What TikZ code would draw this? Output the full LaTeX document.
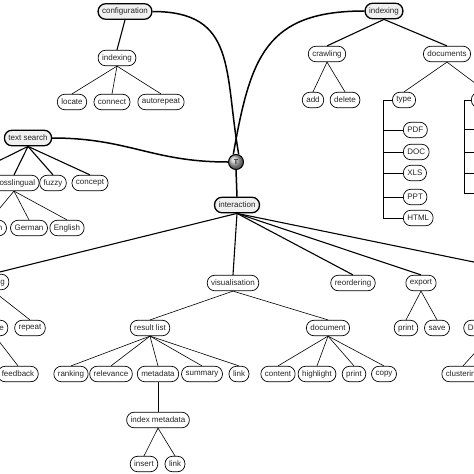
\documentclass[tikz,border=0pt]{standalone}
\usepackage{fontspec}
\setmainfont{Liberation Sans}

\begin{document}
\begin{tikzpicture}[
    x=1pt, y=-1pt,
    text = black!85,
    font=\fontsize{8}{9}\selectfont,
    every node/.style={draw, rounded corners=7.5pt, minimum height=15.5pt, inner xsep=4pt, inner ysep=1pt, fill=white, line width=0.7pt},
    topic/.style={fill=gray!12, line width=1.3pt},
    root/.style={circle, rounded corners=0pt, minimum size=15pt, inner sep=0pt, shading=ball, ball color=gray!60, line width=1pt, font=\bfseries\fontsize{7}{8}\selectfont},
    trunk/.style={line width=1.5pt},
    branch/.style={line width=1.1pt},
    twig/.style={line width=0.6pt}
    ]
    \useasboundingbox (0,0) rectangle (474,474);
    \clip (0,0) rectangle (474,474);

    \node [root] (T) at (236,162) {T};

    % configuration
    \node [topic] (config) at (125,11.5) {configuration};
    \node (cidx) at (117,58) {indexing};
    \node (locate) at (72,102) {locate};
    \node (connect) at (112,102) {connect};
    \node (autorep) at (161,102) {autorepeat};

    % text search
    \node [topic] (ts) at (28,138) {text search};
    \coordinate (tsoff) at (-30,175);
    \node (cross) at (14,183) {crosslingual};
    \node (fuzzy) at (53,183) {fuzzy};
    \node (concept) at (90,183) {concept};
    \node (french) at (-10,228) {French};
    \node (german) at (29,228) {German};
    \node (english) at (67,228) {English};

    % indexing
    \node [topic] (idx) at (384,11) {indexing};
    \node (crawl) at (327,54) {crawling};
    \node (docs) at (447,54) {documents};
    \node (add) at (313,100) {add};
    \node (delete) at (345,100) {delete};
    \node (type) at (404,100) {type};
    \node [anchor=west] (pdf) at (403,130) {PDF};
    \node [anchor=west] (doc) at (403,152) {DOC};
    \node [anchor=west] (xls) at (403,173) {XLS};
    \node [anchor=west] (ppt) at (403,197) {PPT};
    \node [anchor=west] (html) at (403,218) {HTML};
    \coordinate (tbr) at (383,100);
    \node [anchor=west] (fmt) at (471,100) {format};
    \coordinate (fbr) at (464,100);
    \foreach \y [count=\i] in {129,152,173,193}
        \coordinate (f\i) at (478,\y);

    % interaction
    \node [topic] (inter) at (237,205) {interaction};
    \coordinate (vwoff) at (537,275);
    \node (filt) at (-8,282) {filtering};
    \node (store) at (-5,328) {store};
    \node (repeat) at (30,328) {repeat};
    \node (feedback) at (18,374) {feedback};
    \node (vis) at (233,283) {visualisation};
    \node (reord) at (353,283) {reordering};
    \node (export) at (421,283) {export};
    \node (rl) at (150,328) {result list};
    \node (document) at (328,328) {document};
    \node (print) at (406,328) {print};
    \node (save) at (437,328) {save};
    \node (dnode) at (490,328) {Dendrogram};
    \node (ranking) at (71,374) {ranking};
    \node (relevance) at (111,374) {relevance};
    \node (metadata) at (158,374) {metadata};
    \node (summary) at (202,374) {summary};
    \node (link) at (239,374) {link};
    \node (content) at (278,374) {content};
    \node (highlight) at (317,374) {highlight};
    \node (dprint) at (354,374) {print};
    \node (copy) at (384,374) {copy};
    \node (cluster) at (463,374) {clustering};
    \node (imeta) at (158,420) {index metadata};
    \node (insert) at (144,464) {insert};
    \node (ilink) at (175,464) {link};

    % main branches
    \draw [trunk] (config.east) to[out=0, in=100, looseness=1.3] (T.70);
    \draw [trunk] (idx.west) to[out=180, in=80, looseness=1.3] (T.110);
    \draw [trunk] (ts.east) to[out=0, in=180, looseness=1.1] (T.west);
    \draw [trunk] (T.south) -- (inter.north);

    \draw [branch] (config.south) -- (cidx.north);
    \foreach \c in {locate,connect,autorep}
        \draw [twig] (cidx.south) -- (\c.north);

    \draw [branch] (ts.south) -- (tsoff);
    \foreach \c in {cross,fuzzy,concept}
        \draw [branch] (ts.south) -- (\c.north);
    \foreach \c in {french,german,english}
        \draw [twig] (cross.south) -- (\c.north);

    \foreach \c in {crawl,docs}
        \draw [branch] (idx.south) -- (\c.north);
    \foreach \c in {add,delete}
        \draw [twig] (crawl.south) -- (\c.north);
    \foreach \c in {type,fmt}
        \draw [twig] (docs.south) -- (\c.north);
    \draw [twig] (type.west) -- (tbr) |- (html.west);
    \foreach \c in {pdf,doc,xls,ppt}
        \draw [twig] (tbr |- \c.west) -- (\c.west);
    \draw [twig] (fmt.west) -- (fbr) |- (f4);
    \foreach \i in {1,2,3}
        \draw [twig] (fbr |- f\i) -- (f\i);

    \foreach \c in {filt,vis,reord,export}
        \draw [branch] (inter.south) -- (\c.north);
    \draw [branch] (inter.south) -- (vwoff);
    \foreach \c in {store,repeat}
        \draw [twig] (filt.south) -- (\c.north);
    \draw [twig] (store.south) -- (feedback.north);
    \foreach \c in {rl,document}
        \draw [twig] (vis.south) -- (\c.north);
    \foreach \c in {ranking,relevance,metadata,summary,link}
        \draw [twig] (rl.south) -- (\c.north);
    \foreach \c in {content,highlight,dprint,copy}
        \draw [twig] (document.south) -- (\c.north);
    \foreach \c in {print,save}
        \draw [twig] (export.south) -- (\c.north);
    \draw [twig] (metadata.south) -- (imeta.north);
    \foreach \c in {insert,ilink}
        \draw [twig] (imeta.south) -- (\c.north);
    \draw [twig] (dnode.south) -- (cluster.north);
\end{tikzpicture}
\end{document}
